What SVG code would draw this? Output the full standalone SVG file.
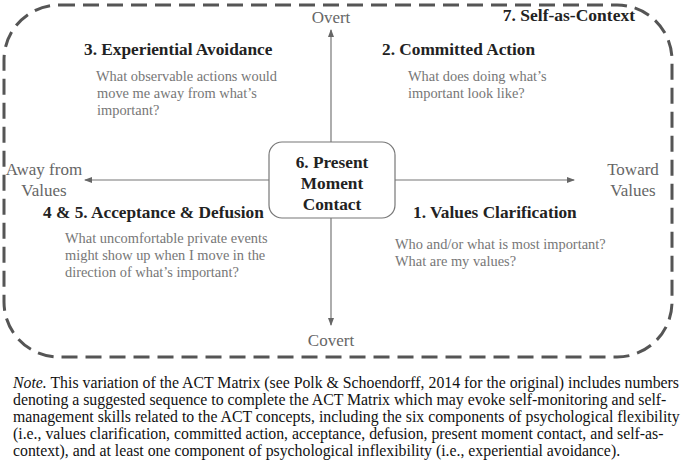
<svg xmlns="http://www.w3.org/2000/svg" width="685" height="465" viewBox="0 0 685 465">
<defs>
<marker id="ah" markerWidth="8" markerHeight="6" refX="7" refY="3" orient="auto" markerUnits="userSpaceOnUse">
<path d="M0,0 L8,3 L0,6 Z" fill="#666"/>
</marker>
<style>
text{font-family:"Liberation Serif","Times New Roman",serif}
.h{font-size:17.3px;font-weight:bold;fill:#222}
.b{font-size:14.4px;fill:#777}
.ax{font-size:17px;fill:#666}
.n{font-size:15.8px;fill:#111}
.ln{stroke:#777;stroke-width:1.2;fill:none}
</style>
</defs>
<rect width="685" height="465" fill="#fff"/>
<g id="self-as-context">
<rect x="4" y="5" width="668" height="352" rx="55" ry="55" fill="none" stroke="#555" stroke-width="3" stroke-dasharray="16 8"/>
<text class="h" x="635" y="21" text-anchor="end" style="font-size:17.5px">7. Self-as-Context</text>
</g>
<g id="connectors">
<line class="ln" x1="331" y1="142" x2="331" y2="30" marker-end="url(#ah)"/>
<line class="ln" x1="331" y1="218" x2="331" y2="325" marker-end="url(#ah)"/>
<line class="ln" x1="269" y1="180" x2="85" y2="180" marker-end="url(#ah)"/>
<line class="ln" x1="395" y1="180" x2="574" y2="180" marker-end="url(#ah)"/>
</g>
<g id="axis-labels">
<text class="ax" x="331" y="23" text-anchor="middle">Overt</text>
<text class="ax" x="44" y="175" text-anchor="middle">Away from</text>
<text class="ax" x="44" y="196" text-anchor="middle">Values</text>
<text class="ax" x="633" y="175" text-anchor="middle">Toward</text>
<text class="ax" x="633" y="196" text-anchor="middle">Values</text>
<text class="ax" x="331" y="346" text-anchor="middle">Covert</text>
</g>
<g id="present-moment">
<rect x="269" y="142" width="126" height="76" rx="13" ry="13" fill="#fff" stroke="#777" stroke-width="1.2"/>
<text class="h" x="332" y="168" text-anchor="middle">6. Present</text>
<text class="h" x="332" y="189" text-anchor="middle">Moment</text>
<text class="h" x="332" y="210" text-anchor="middle">Contact</text>
</g>
<g id="experiential-avoidance">
<text class="h" x="84" y="55">3. Experiential Avoidance</text>
<text class="b" x="96" y="81">What observable actions would</text>
<text class="b" x="97" y="98">move me away from what’s</text>
<text class="b" x="97" y="115">important?</text>
</g>
<g id="committed-action">
<text class="h" x="382" y="55">2. Committed Action</text>
<text class="b" x="408" y="81">What does doing what’s</text>
<text class="b" x="408" y="98">important look like?</text>
</g>
<g id="acceptance-defusion">
<text class="h" x="43" y="218">4 &amp; 5. Acceptance &amp; Defusion</text>
<text class="b" x="65" y="243">What uncomfortable private events</text>
<text class="b" x="65" y="260">might show up when I move in the</text>
<text class="b" x="65" y="277">direction of what’s important?</text>
</g>
<g id="values-clarification">
<text class="h" x="413" y="218">1. Values Clarification</text>
<text class="b" x="395" y="249">Who and/or what is most important?</text>
<text class="b" x="395" y="266">What are my values?</text>
</g>
<g id="note">
<text class="n" x="13" y="388"><tspan font-style="italic">Note.</tspan> This variation of the ACT Matrix (see Polk &amp; Schoendorff, 2014 for the original) includes numbers</text>
<text class="n" x="13" y="405">denoting a suggested sequence to complete the ACT Matrix which may evoke self-monitoring and self-</text>
<text class="n" x="13" y="422">management skills related to the ACT concepts, including the six components of psychological flexibility</text>
<text class="n" x="13" y="439">(i.e., values clarification, committed action, acceptance, defusion, present moment contact, and self-as-</text>
<text class="n" x="13" y="456">context), and at least one component of psychological inflexibility (i.e., experiential avoidance).</text>
</g>
</svg>
